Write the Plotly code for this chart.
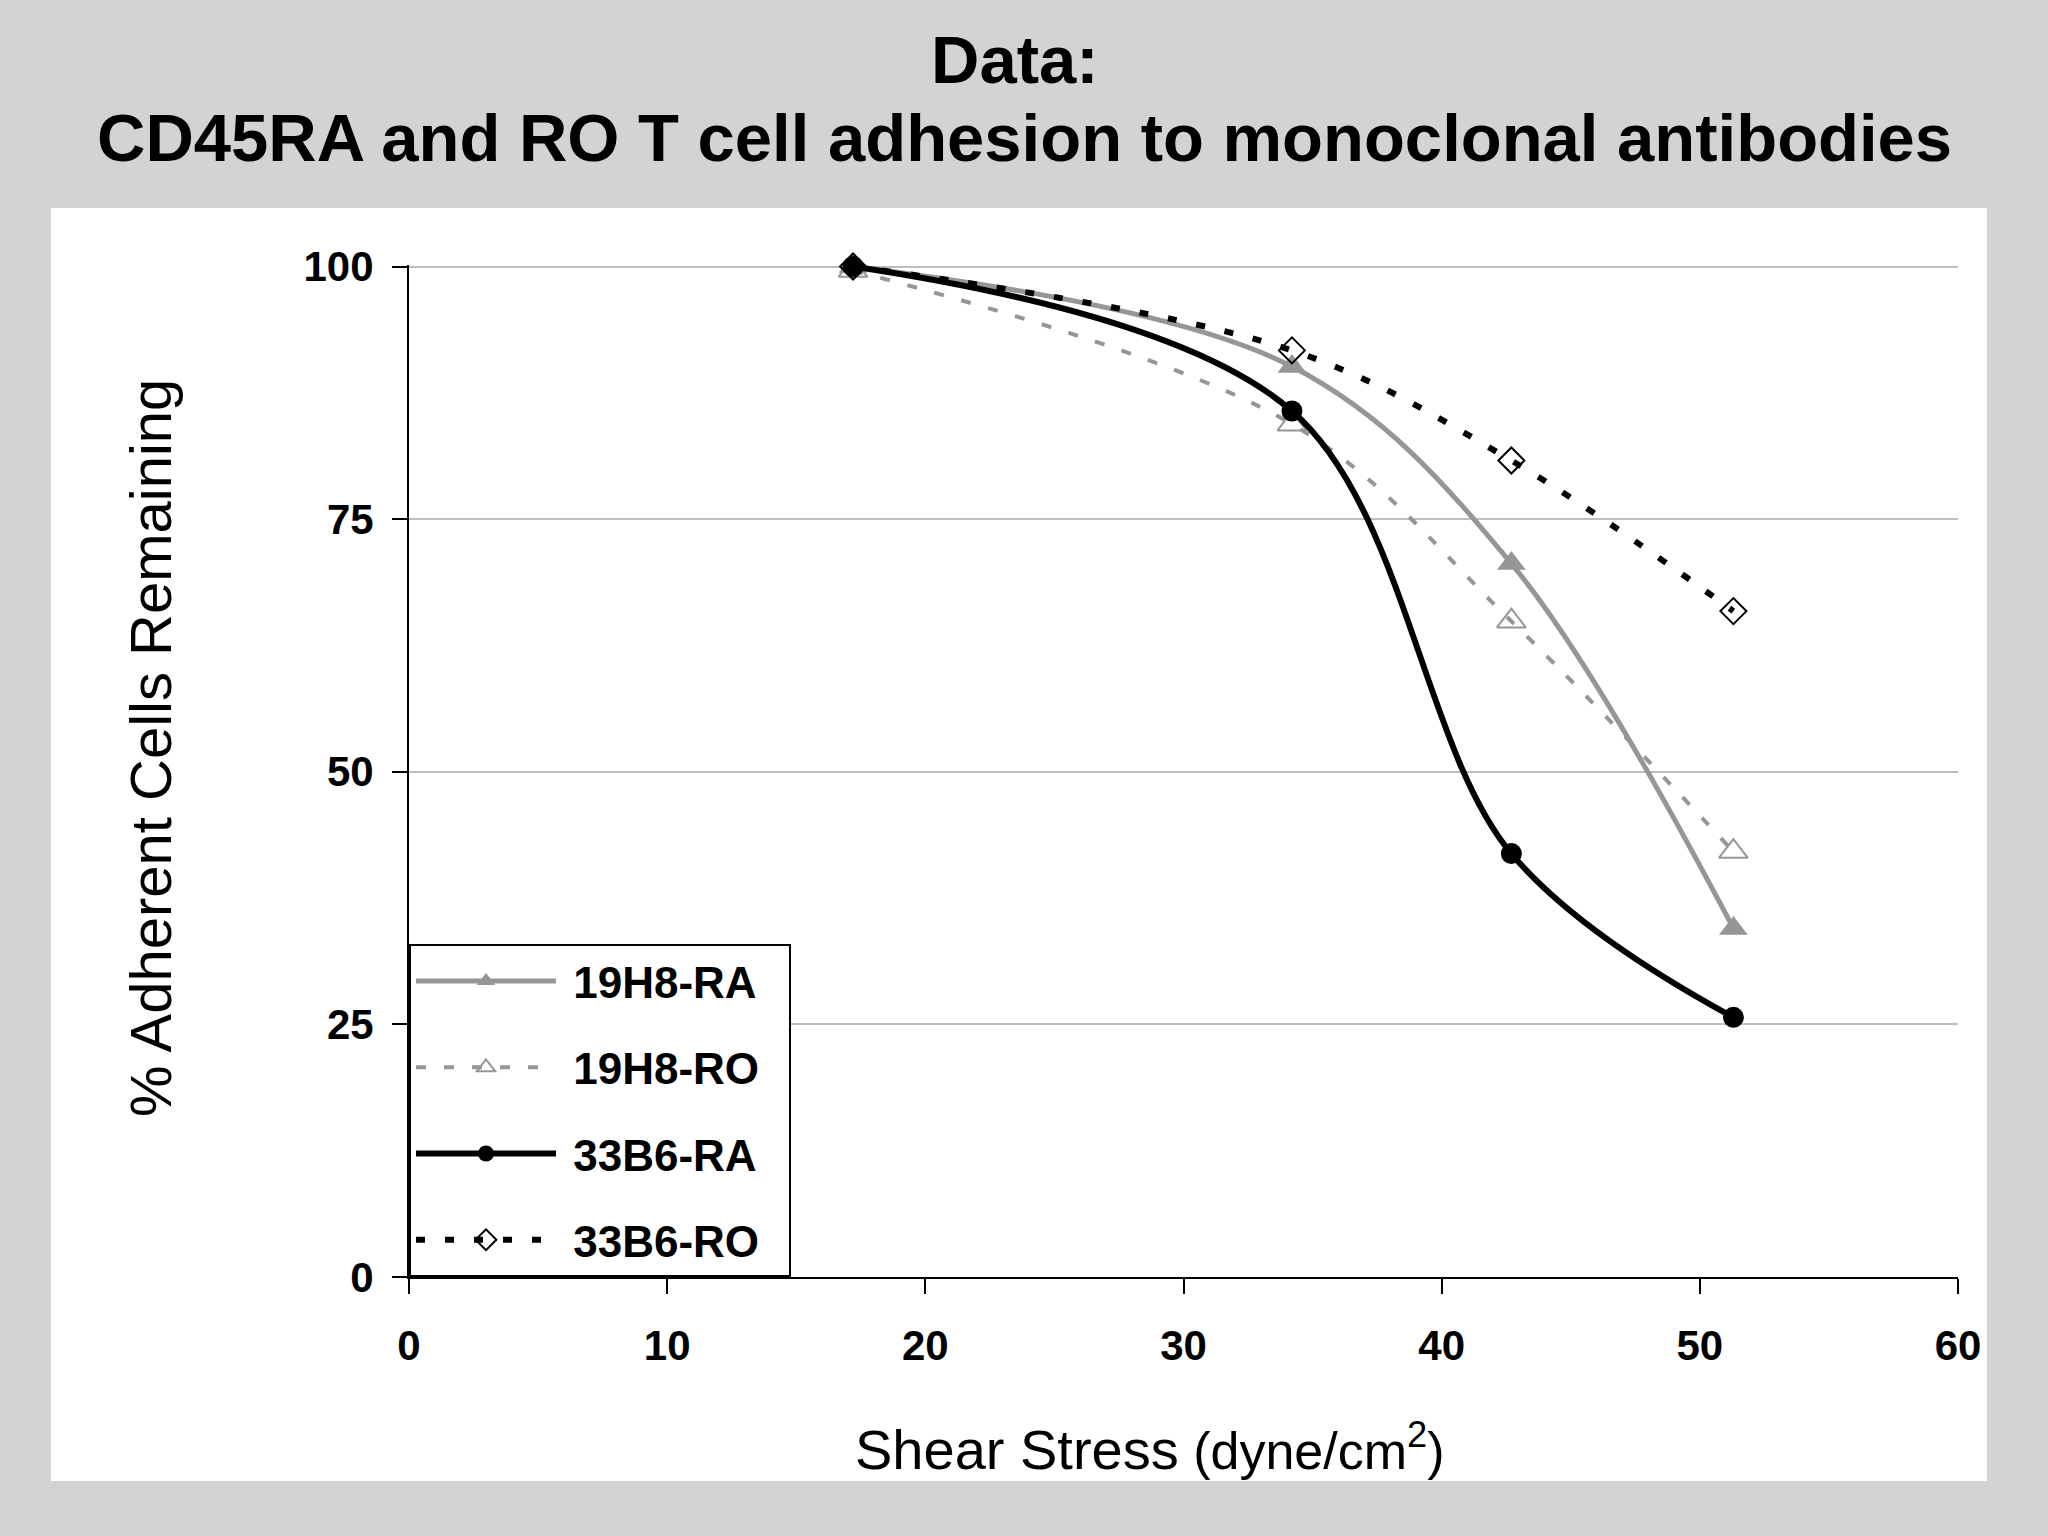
import plotly.graph_objects as go

# ---- data ----
shear_stress = [17.2, 34.2, 42.7, 51.3]
cells_19h8_ra = [100.0, 90.1, 70.6, 34.5]
cells_19h8_ro = [99.6, 84.4, 64.9, 42.1]
cells_33b6_ra = [100.0, 85.7, 41.9, 25.7]
cells_33b6_ro = [100.0, 91.7, 80.8, 65.9]
series_names = ["19H8-RA", "19H8-RO", "33B6-RA", "33B6-RO"]
x_tick_values = [0, 10, 20, 30, 40, 50, 60]
y_tick_values = [0, 25, 50, 75, 100]

title_line1 = "Data:"
title_line2 = "CD45RA and RO T cell adhesion to monoclonal antibodies"
y_title = "% Adherent Cells Remaining"

FONT = "Liberation Sans, Arial, Helvetica, sans-serif"
GRAY = "#969696"
PAD = "\u00a0\u00a0"

W, H = 2048, 1536
L, R, T, B = 409, 90, 265, 259
PW, PH = W - L - R, H - T - B


def px_x(px):
    return (px - L) / PW


def px_y(py):
    return (H - B - py) / PH


fig = go.Figure()

fig.add_trace(go.Scatter(
    x=shear_stress, y=cells_19h8_ra, name="\u00a0" + series_names[0] + PAD, legendgroup="a",
    mode="lines+markers", cliponaxis=False,
    line=dict(color=GRAY, width=5, shape="spline", smoothing=1),
    marker=dict(symbol="triangle-up", size=25, color=GRAY, line=dict(width=0)),
))
fig.add_trace(go.Scatter(
    x=shear_stress, y=cells_19h8_ro, name="\u00a0" + series_names[1] + PAD, legendgroup="b",
    mode="lines+markers", cliponaxis=False,
    line=dict(color=GRAY, width=4, shape="spline", smoothing=1, dash="10px,18px"),
    marker=dict(symbol="triangle-up-open", size=25, color=GRAY, line=dict(width=2, color=GRAY)),
))
fig.add_trace(go.Scatter(
    x=shear_stress, y=cells_33b6_ra, name="\u00a0" + series_names[2] + PAD, legendgroup="c",
    mode="lines+markers", cliponaxis=False,
    line=dict(color="black", width=6, shape="spline", smoothing=1),
    marker=dict(symbol="circle", size=21, color="black"),
))
fig.add_trace(go.Scatter(
    x=shear_stress, y=cells_33b6_ro, name="\u00a0" + series_names[3] + PAD, legendgroup="d",
    mode="lines+markers", cliponaxis=False,
    line=dict(color="black", width=6, shape="spline", smoothing=1, dash="9px,20px"),
    marker=dict(symbol="diamond-open", size=20, color="black", line=dict(width=2, color="black")),
))

# white panel behind the chart
fig.add_shape(type="rect", xref="paper", yref="paper",
              x0=px_x(51), x1=px_x(1987), y0=px_y(1481), y1=px_y(208),
              fillcolor="white", line=dict(width=0), layer="below")

ann = [
    dict(text=f"<b>{title_line1}</b>", x=px_x(1015), y=px_y(59), font=dict(size=67)),
    dict(text=f"<b>{title_line2}</b>", x=px_x(1024), y=px_y(137), font=dict(size=67)),
    dict(text='<span style="font-size:56px">Shear Stress</span> (dyne/cm<sup>2</sup>)',
         x=px_x(1150), y=px_y(1447), font=dict(size=52)),
    dict(text=y_title, x=px_x(150), y=px_y(748), textangle=-90, font=dict(size=58)),
]
for a in ann:
    a.update(xref="paper", yref="paper", showarrow=False, xanchor="center", yanchor="middle")
    a["font"].update(family=FONT, color="black")
    fig.add_annotation(**a)

fig.update_layout(
    width=W, height=H,
    margin=dict(l=L, r=R, t=T, b=B, autoexpand=False),
    paper_bgcolor="#d3d3d3", plot_bgcolor="white",
    font=dict(family=FONT, color="black"),
    showlegend=True,
    legend=dict(
        x=0, y=0, xanchor="left", yanchor="bottom",
        bgcolor="white", bordercolor="black", borderwidth=2,
        font=dict(size=44, weight="bold", family=FONT, color="black"),
        tracegroupgap=26, traceorder="grouped", itemwidth=140,
    ),
    xaxis=dict(
        range=[0, 60], tickvals=x_tick_values, showgrid=False, zeroline=False,
        showline=True, linecolor="black", linewidth=2,
        ticks="outside", ticklen=15, tickwidth=2, tickcolor="black",
        tickfont=dict(size=42, weight="bold", family=FONT), ticklabelstandoff=16,
    ),
    yaxis=dict(
        range=[0, 100.15], tickvals=y_tick_values, showgrid=True, gridcolor="#bdbdbd", gridwidth=2,
        zeroline=False, showline=True, linecolor="black", linewidth=2,
        ticks="outside", ticklen=15, tickwidth=2, tickcolor="black",
        tickfont=dict(size=42, weight="bold", family=FONT), ticklabelstandoff=10,
    ),
)

fig.write_html("out.html")
